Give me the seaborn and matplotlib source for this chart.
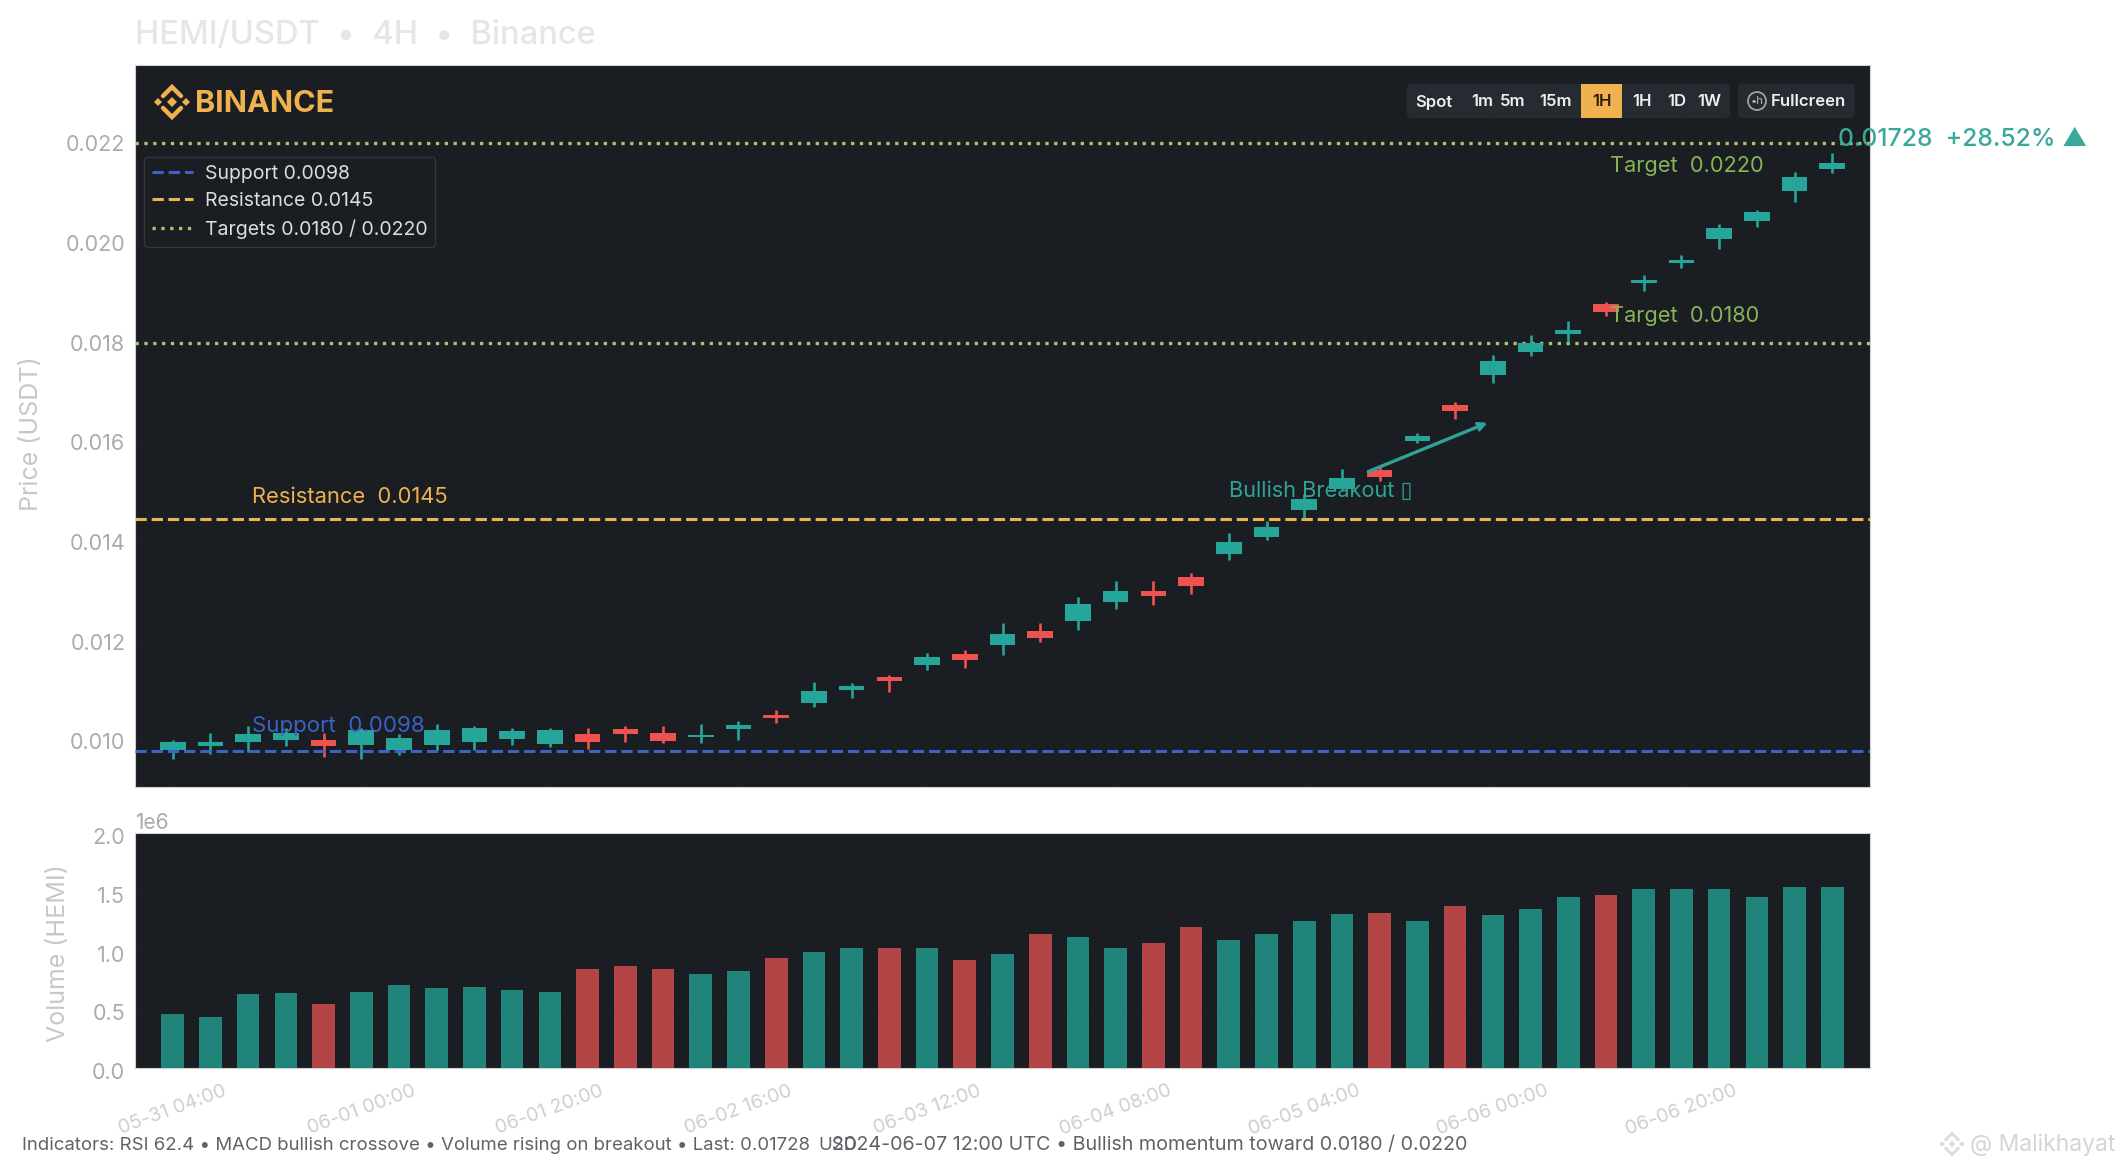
import numpy as np
import pandas as pd
import seaborn as sns
import matplotlib.pyplot as plt
from matplotlib.patches import FancyBboxPatch, Polygon, Rectangle
from matplotlib.lines import Line2D
from matplotlib.transforms import Affine2D

# candles
opens = [.00982, .00991, .00998, .01002, .01002, .00992, .00982, .00992, .00999, .01005, .00995, .01014,
         .01025, .01017, .01008, .01024, .01053, .01077, .01102, .01128, .01153, .01175, .01192, .01221,
         .01242, .01280, .01301, .01330, .01376, .01410, .01464, .01507, .01544, .01603, .01674, .01735,
         .01781, .01817, .01877, .01920, .01959, .02007, .02043, .02105, .02148]
closes = [.00998, .00999, .01014, .01017, .00991, .01022, .01007, .01023, .01027, .01021, .01023, .00999,
          .01014, .01001, .01013, .01033, .01046, .01101, .01111, .01120, .01168, .01163, .01216, .01208,
          .01275, .01301, .01291, .01311, .01399, .01430, .01485, .01528, .01531, .01612, .01662, .01763,
          .01799, .01825, .01862, .01926, .01966, .02029, .02062, .02133, .02160]
highs = [.01002, .01017, .01030, .01027, .01017, .01027, .01015, .01034, .01030, .01027, .01027, .01027,
         .01031, .01031, .01034, .01041, .01062, .01119, .01116, .01132, .01176, .01182, .01238, .01238,
         .01290, .01321, .01321, .01337, .01418, .01442, .01497, .01546, .01551, .01618, .01681, .01774,
         .01815, .01843, .01882, .01936, .01975, .02038, .02066, .02143, .02180]
lows = [.00965, .00975, .00979, .00991, .00969, .00965, .00972, .00983, .00983, .00993, .00989, .00985,
        .00998, .00997, .00997, .01003, .01037, .01069, .01086, .01098, .01143, .01146, .01173, .01199,
        .01224, .01266, .01274, .01295, .01363, .01404, .01447, .01504, .01523, .01598, .01647, .01718,
        .01773, .01802, .01853, .01904, .01949, .01988, .02031, .02082, .02141]
volumes = [457000, 431000, 626000, 637000, 543000, 649000, 703000, 677000, 689000, 663000, 649000, 843000,
           871000, 843000, 800000, 829000, 940000, 991000, 1020000, 1023000, 1020000, 920000, 969000, 1143000,
           1114000, 1020000, 1060000, 1200000, 1091000, 1143000, 1254000, 1309000, 1323000, 1254000, 1380000,
           1306000, 1349000, 1457000, 1471000, 1526000, 1526000, 1526000, 1457000, 1540000, 1543000]

tick_idx = [0, 5, 10, 15, 20, 25, 30, 35, 40]
tick_labels = ["05-31 04:00", "06-01 00:00", "06-01 20:00", "06-02 16:00", "06-03 12:00",
               "06-04 08:00", "06-05 04:00", "06-06 00:00", "06-06 20:00"]
price_ticks = [0.010, 0.012, 0.014, 0.016, 0.018, 0.020, 0.022]
vol_ticks = [0, 500000, 1000000, 1500000, 2000000]

# level lines, as drawn in the picture
support = 0.0098
resistance = 0.01445
target1 = 0.0180
target2 = 0.0220

W, H = 2128, 1168
BG = "#1a1d21"
UP = "#26a69a"
DOWN = "#ef5350"
YELLOW = "#f0b24f"
BLUE = "#3c62c8"
GREEN_T = "#a3c76d"
FONT = ["Inter", "DejaVu Sans"]

sns.set_theme(style="white")
plt.rcParams["font.family"] = FONT

fig = plt.figure(figsize=(W / 100, H / 100), dpi=100, facecolor="white")
px = Affine2D().scale(1, -1).translate(0, H)  # pixels from the top left


def box(l, t, r, b):
    return [l / W, 1 - b / H, (r - l) / W, (b - t) / H]


ax = fig.add_axes(box(135, 65, 1870, 787), facecolor=BG)
ax_vol = fig.add_axes(box(135, 833, 1870, 1068), facecolor=BG)

# price panel
idx = np.arange(len(opens))
colors = [UP if c >= o else DOWN for o, c in zip(opens, closes)]
ax.vlines(idx, lows, highs, colors=colors, lw=1.9, zorder=3)
ax.bar(idx, np.abs(np.array(closes) - np.array(opens)), bottom=np.minimum(opens, closes),
       width=0.68, color=colors, linewidth=0, zorder=4)

ax.axhline(support, color=BLUE, ls="--", lw=2.2, zorder=5, label="Support 0.0098")
ax.axhline(resistance, color=YELLOW, ls="--", lw=2.2, zorder=2, label="Resistance 0.0145")
ax.axhline(target1, color=GREEN_T, ls=":", lw=2.4, zorder=2, label="Targets 0.0180 / 0.0220")
ax.axhline(target2, color=GREEN_T, ls=":", lw=2.4, zorder=2)

ax.text(2.1, 0.01031, "Support  0.0098", color=BLUE, fontsize=16, va="center", zorder=6)
ax.text(2.1, 0.01491, "Resistance  0.0145", color=YELLOW, fontsize=15.8, va="center", zorder=6)
ax.text(38.1, 0.01854, "Target  0.0180", color="#86b557", fontsize=15.7, va="center", zorder=6)
ax.text(38.1, 0.02155, "Target  0.0220", color="#86b557", fontsize=15.7, va="center", zorder=6)
ax.text(28.0, 0.01503, "Bullish Breakout ▯", color="#2fa397", fontsize=15.7, va="center", zorder=6)
ax.annotate("", xy=(34.86, 0.01639), xytext=(31.7, 0.01541),
            arrowprops=dict(arrowstyle="->", color="#2fa397", lw=2.4, shrinkA=0, shrinkB=0), zorder=6)

leg = ax.legend(loc="upper left", bbox_to_anchor=(9 / 1735, 1 - 92 / 722), borderaxespad=0,
                facecolor=BG, edgecolor="#33373d", framealpha=1, fontsize=14, labelcolor="#dddddd",
                handlelength=2.1, handletextpad=0.6, labelspacing=0.46, borderpad=0.42, fancybox=True)
leg.set_zorder(10)

ax.set_xlim(-1, 45)
ax.set_ylim(0.00908, 0.02357)
ax.set_yticks(price_ticks, [f"{v:.3f}" for v in price_ticks])
ax.set_xticks(tick_idx, [])
ax.set_ylabel("Price (USDT)", color="#c8c8c8", fontsize=18)
ax.yaxis.set_label_coords(-92 / 1735, 0.49)

# volume panel
vol_df = pd.DataFrame({"idx": idx, "volume": volumes, "side": ["up" if c == UP else "down" for c in colors]})
sns.barplot(data=vol_df, x="idx", y="volume", hue="side", palette={"up": "#21847a", "down": "#b34546"},
            dodge=False, width=0.6, native_scale=True, saturation=1, legend=False, linewidth=0,
            ax=ax_vol, zorder=3)
ax_vol.set_xlim(-1, 45)
ax_vol.set_ylim(0, 2000000)
ax_vol.set_yticks(vol_ticks)
ax_vol.set_xticks(tick_idx, tick_labels, rotation=20, ha="center", color="#cfcfcf", fontsize=14)
ax_vol.set_xlabel("")
ax_vol.set_ylabel("Volume (HEMI)", color="#c8c8c8", fontsize=18)
ax_vol.yaxis.set_label_coords(-65 / 1735, 0.49)
ax_vol.yaxis.get_offset_text().set(color="#a8a8a8", fontsize=15)

for a in (ax, ax_vol):
    a.grid(True, color="#1e2126", lw=0.8, zorder=1)
    a.set_axisbelow(True)
    a.tick_params(axis="both", length=0)
    a.tick_params(axis="y", labelcolor="#ababab", labelsize=15.5, pad=7)
    for s in a.spines.values():
        s.set_color("#cfcfcf")
        s.set_linewidth(0.8)
ax_vol.tick_params(axis="x", pad=10)
for lab in ax_vol.get_yticklabels():
    lab.set_transform(lab.get_transform() + Affine2D().translate(0, -3))


def rbox(l, t, r, b, color, rad=4, z=6):
    fig.add_artist(FancyBboxPatch((l, t), r - l, b - t, boxstyle=f"round,pad=0,rounding_size={rad}",
                                  fc=color, ec="none", transform=px, zorder=z))


def ptext(x, y, s, **kw):
    kw.setdefault("va", "center")
    kw.setdefault("zorder", 8)
    fig.text(x, y, s, transform=px, **kw)


def logo(cx, cy, k, color, z=7):
    for dx, dy, r in [(0, 0, 5), (-14, 0, 4), (14, 0, 4)]:
        fig.add_artist(Polygon([(cx + k * (dx - r), cy + k * dy), (cx + k * dx, cy + k * (dy - r)),
                                (cx + k * (dx + r), cy + k * dy), (cx + k * dx, cy + k * (dy + r))],
                               fc=color, ec="none", transform=px, zorder=z))
    for sign in (-1, 1):
        fig.add_artist(Line2D([cx - 9 * k, cx, cx + 9 * k],
                              [cy + sign * 6 * k, cy + sign * 15 * k, cy + sign * 6 * k],
                              color=color, lw=3.2 * k, transform=px, zorder=z, solid_joinstyle="miter"))


# title and branding
ptext(135, 35, "HEMI/USDT  •  4H  •  Binance", color="#e6e6e6", fontsize=23.5, ha="left", fontweight="medium")
logo(172, 102, 1, YELLOW)
ptext(195, 104, "BINANCE", color=YELLOW, fontsize=22, fontweight="bold", ha="left")

# timeframe buttons
rbox(1407, 84, 1730, 118, "#262a31")
rbox(1738, 84, 1855, 118, "#262a31")
fig.add_artist(Rectangle((1581, 84), 41, 34, fc=YELLOW, ec="none", transform=px, zorder=7))
for x, s in [(1434, "Spot"), (1482, "1m"), (1513, "5m"), (1556, "15m"), (1642, "1H"), (1677, "1D"), (1709, "1W"),
             (1808, "Fullcreen")]:
    ptext(x, 102, s, color="#eeeeee", fontsize=12, fontweight="semibold", ha="center")
ptext(1602, 102, "1H", color="#2a1d05", fontsize=12, fontweight="semibold", ha="center")
fig.add_artist(plt.Circle((1757, 101), 9, fc="none", ec="#9a9a9a", lw=1.4, transform=px, zorder=7))
ptext(1757, 101, "•h", color="#bbbbbb", fontsize=8, ha="center")

# last price
ptext(1838, 139, "0.01728  +28.52% ▲", color="#3aa89b", fontsize=17.8, ha="left", fontweight="medium")

# footer
ptext(22, 1145, "Indicators: RSI 62.4 • MACD bullish crossove • Volume rising on breakout • Last: 0.01728",
      color="#5f6368", fontsize=13.4, ha="left")
ptext(818, 1145, "USD", color="#5f6368", fontsize=13.4, ha="left")
ptext(832, 1145, "2024-06-07 12:00 UTC • Bullish momentum toward 0.0180 / 0.0220",
      color="#5f6368", fontsize=14.2, ha="left")

# watermark
logo(1952, 1144, 0.7, "#dddddd")
ptext(1970, 1145, "@ Malikhayat", color="#d5d5d5", fontsize=16.5, ha="left")

fig.savefig("out.png", dpi=100, facecolor="white")
